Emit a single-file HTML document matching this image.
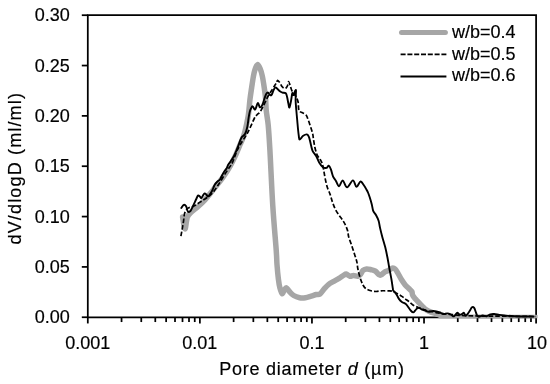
<!DOCTYPE html><html><head><meta charset="utf-8"><style>html,body{margin:0;padding:0;background:#fff;}svg{display:block;}</style></head><body>
<svg width="550" height="384" viewBox="0 0 550 384" font-family='"Liberation Sans", Arial, sans-serif' font-size="18">
<style>text{stroke:#000;stroke-width:0.18px;}</style>
<rect width="550" height="384" fill="#fff"/>
<g stroke="#000" stroke-width="1.75" fill="none">
<path d="M87.80,15.20 H536.10 V317.25 H87.80 Z"/>
<path d="M81.80,317.25 H87.80"/>
<path d="M81.80,266.91 H87.80"/>
<path d="M81.80,216.57 H87.80"/>
<path d="M81.80,166.22 H87.80"/>
<path d="M81.80,115.88 H87.80"/>
<path d="M81.80,65.54 H87.80"/>
<path d="M81.80,15.20 H87.80"/>
<path d="M87.80,317.25 V323.45"/>
<path d="M121.54,317.25 V322.05"/>
<path d="M141.27,317.25 V322.05"/>
<path d="M155.28,317.25 V322.05"/>
<path d="M166.14,317.25 V322.05"/>
<path d="M175.01,317.25 V322.05"/>
<path d="M182.51,317.25 V322.05"/>
<path d="M189.01,317.25 V322.05"/>
<path d="M194.75,317.25 V322.05"/>
<path d="M199.88,317.25 V323.45"/>
<path d="M233.61,317.25 V322.05"/>
<path d="M253.35,317.25 V322.05"/>
<path d="M267.35,317.25 V322.05"/>
<path d="M278.21,317.25 V322.05"/>
<path d="M287.09,317.25 V322.05"/>
<path d="M294.59,317.25 V322.05"/>
<path d="M301.09,317.25 V322.05"/>
<path d="M306.82,317.25 V322.05"/>
<path d="M311.95,317.25 V323.45"/>
<path d="M345.69,317.25 V322.05"/>
<path d="M365.42,317.25 V322.05"/>
<path d="M379.43,317.25 V322.05"/>
<path d="M390.29,317.25 V322.05"/>
<path d="M399.16,317.25 V322.05"/>
<path d="M406.66,317.25 V322.05"/>
<path d="M413.16,317.25 V322.05"/>
<path d="M418.90,317.25 V322.05"/>
<path d="M424.03,317.25 V323.45"/>
<path d="M457.76,317.25 V322.05"/>
<path d="M477.50,317.25 V322.05"/>
<path d="M491.50,317.25 V322.05"/>
<path d="M502.36,317.25 V322.05"/>
<path d="M511.24,317.25 V322.05"/>
<path d="M518.74,317.25 V322.05"/>
<path d="M525.24,317.25 V322.05"/>
<path d="M530.97,317.25 V322.05"/>
<path d="M536.10,317.25 V323.45"/>
</g>
<clipPath id="pa"><rect x="86.80" y="15.20" width="450.80" height="303.00"/></clipPath><g clip-path="url(#pa)">
<path d="M182.60,217.00 C183.00,219.00 184.20,229.00 185.00,229.00 C185.80,229.00 186.25,219.92 187.40,217.00 C188.55,214.08 190.07,213.30 191.90,211.50 C193.73,209.70 196.22,208.15 198.40,206.20 C200.58,204.25 203.03,201.90 205.00,199.80 C206.97,197.70 208.37,195.87 210.20,193.60 C212.03,191.33 213.85,188.93 216.00,186.20 C218.15,183.47 220.70,180.63 223.10,177.20 C225.50,173.77 228.25,169.42 230.40,165.60 C232.55,161.78 234.40,157.77 236.00,154.30 C237.60,150.83 238.75,147.77 240.00,144.80 C241.25,141.83 242.55,139.25 243.50,136.50 C244.45,133.75 244.88,131.95 245.70,128.30 C246.52,124.65 247.70,119.32 248.40,114.60 C249.10,109.88 249.37,104.43 249.90,100.00 C250.43,95.57 251.03,91.85 251.60,88.00 C252.17,84.15 252.75,79.93 253.30,76.90 C253.85,73.87 254.20,71.85 254.90,69.80 C255.60,67.75 256.63,64.82 257.50,64.60 C258.37,64.38 259.30,66.60 260.10,68.50 C260.90,70.40 261.60,72.75 262.30,76.00 C263.00,79.25 263.75,84.22 264.30,88.00 C264.85,91.78 265.27,94.87 265.60,98.70 C265.93,102.53 265.87,106.62 266.30,111.00 C266.73,115.38 267.60,118.50 268.20,125.00 C268.80,131.50 269.13,136.50 269.90,150.00 C270.67,163.50 271.75,189.33 272.80,206.00 C273.85,222.67 275.50,240.23 276.20,250.00 C276.90,259.77 276.63,259.73 277.00,264.60 C277.37,269.47 277.92,275.32 278.40,279.20 C278.88,283.08 279.28,285.48 279.90,287.90 C280.52,290.32 281.37,293.35 282.10,293.70 C282.83,294.05 283.58,290.97 284.30,290.00 C285.02,289.03 285.55,287.65 286.40,287.90 C287.25,288.15 288.18,290.23 289.40,291.50 C290.62,292.77 292.00,294.47 293.70,295.50 C295.40,296.53 297.65,297.33 299.60,297.70 C301.55,298.07 303.47,297.97 305.40,297.70 C307.33,297.43 309.38,296.63 311.20,296.10 C313.02,295.57 314.83,294.87 316.30,294.50 C317.77,294.13 318.65,294.88 320.00,293.90 C321.35,292.92 322.95,290.20 324.40,288.60 C325.85,287.00 327.13,285.52 328.70,284.30 C330.27,283.08 332.08,282.28 333.80,281.30 C335.52,280.32 337.42,279.37 339.00,278.40 C340.58,277.43 342.10,276.23 343.30,275.50 C344.50,274.77 345.10,273.88 346.20,274.00 C347.30,274.12 348.68,275.95 349.90,276.20 C351.12,276.45 352.17,275.50 353.50,275.50 C354.83,275.50 356.68,276.45 357.90,276.20 C359.12,275.95 359.95,274.97 360.80,274.00 C361.65,273.03 362.03,271.23 363.00,270.40 C363.97,269.57 365.27,269.12 366.60,269.00 C367.93,268.88 369.53,269.35 371.00,269.70 C372.47,270.05 374.07,270.25 375.40,271.10 C376.73,271.95 378.03,274.18 379.00,274.80 C379.97,275.42 380.22,275.28 381.20,274.80 C382.18,274.32 383.68,272.63 384.90,271.90 C386.12,271.17 387.28,271.02 388.50,270.40 C389.72,269.78 391.10,268.43 392.20,268.20 C393.30,267.97 394.13,268.15 395.10,269.00 C396.07,269.85 396.92,271.50 398.00,273.30 C399.08,275.10 400.40,277.87 401.60,279.80 C402.80,281.73 404.00,283.45 405.20,284.90 C406.40,286.35 407.70,287.42 408.80,288.50 C409.90,289.58 411.17,290.30 411.80,291.40 C412.43,292.50 412.03,293.88 412.60,295.10 C413.17,296.32 414.30,297.62 415.20,298.70 C416.10,299.78 416.95,300.47 418.00,301.60 C419.05,302.73 420.33,304.27 421.50,305.50 C422.67,306.73 423.73,308.05 425.00,309.00 C426.27,309.95 427.67,310.53 429.10,311.20 C430.53,311.87 432.08,312.45 433.60,313.00 C435.12,313.55 436.97,314.03 438.20,314.50 C439.43,314.97 440.20,315.40 441.00,315.80 C441.80,316.20 441.50,316.65 443.00,316.90 C444.50,317.15 434.50,317.22 450.00,317.30 C465.50,317.38 521.67,317.38 536.00,317.40" fill="none" stroke="#a6a6a6" stroke-width="5.5" stroke-linejoin="round" stroke-linecap="round"/>
<path d="M180.90,236.20 C181.12,235.02 181.77,231.58 182.20,229.10 C182.63,226.62 183.07,224.02 183.50,221.30 C183.93,218.58 184.05,214.98 184.80,212.80 C185.55,210.62 186.82,209.18 188.00,208.20 C189.18,207.22 190.60,207.43 191.90,206.90 C193.20,206.37 194.50,205.75 195.80,205.00 C197.10,204.25 198.40,203.27 199.70,202.40 C201.00,201.53 202.28,200.67 203.60,199.80 C204.92,198.93 206.07,198.40 207.60,197.20 C209.13,196.00 210.95,194.77 212.80,192.60 C214.65,190.43 216.50,187.57 218.70,184.20 C220.90,180.83 223.80,175.83 226.00,172.40 C228.20,168.97 230.43,166.27 231.90,163.60 C233.37,160.93 233.95,158.58 234.80,156.40 C235.65,154.22 236.15,152.37 237.00,150.50 C237.85,148.63 238.82,147.05 239.90,145.20 C240.98,143.35 242.28,141.35 243.50,139.40 C244.72,137.45 245.98,135.70 247.20,133.50 C248.42,131.30 249.58,128.78 250.80,126.20 C252.02,123.62 253.45,119.92 254.50,118.00 C255.55,116.08 256.12,115.78 257.10,114.70 C258.08,113.62 259.20,113.28 260.40,111.50 C261.60,109.72 263.00,106.58 264.30,104.00 C265.60,101.42 266.92,98.33 268.20,96.00 C269.48,93.67 270.87,91.83 272.00,90.00 C273.13,88.17 274.23,86.20 275.00,85.00 C275.77,83.80 276.17,83.57 276.60,82.80 C277.03,82.03 277.03,80.37 277.60,80.40 C278.17,80.43 279.27,81.98 280.00,83.00 C280.73,84.02 281.33,85.62 282.00,86.50 C282.67,87.38 283.33,88.05 284.00,88.30 C284.67,88.55 285.40,88.47 286.00,88.00 C286.60,87.53 287.17,86.57 287.60,85.50 C288.03,84.43 288.20,81.68 288.60,81.60 C289.00,81.52 289.50,83.60 290.00,85.00 C290.50,86.40 290.98,88.53 291.60,90.00 C292.22,91.47 292.97,92.72 293.70,93.80 C294.43,94.88 295.27,95.13 296.00,96.50 C296.73,97.87 297.67,100.00 298.10,102.00 C298.53,104.00 298.35,106.95 298.60,108.50 C298.85,110.05 298.95,110.58 299.60,111.30 C300.25,112.02 301.42,112.18 302.50,112.80 C303.58,113.42 305.13,113.78 306.10,115.00 C307.07,116.22 307.57,118.17 308.30,120.10 C309.03,122.03 309.77,124.30 310.50,126.60 C311.23,128.90 312.22,131.88 312.70,133.90 C313.18,135.92 313.03,136.43 313.40,138.70 C313.77,140.97 314.28,144.82 314.90,147.50 C315.52,150.18 316.25,152.85 317.10,154.80 C317.95,156.75 319.15,157.75 320.00,159.20 C320.85,160.65 321.60,161.80 322.20,163.50 C322.80,165.20 323.12,166.97 323.60,169.40 C324.08,171.83 324.48,175.12 325.10,178.10 C325.72,181.08 326.45,184.55 327.30,187.30 C328.15,190.05 329.35,192.17 330.20,194.60 C331.05,197.03 331.55,199.47 332.40,201.90 C333.25,204.33 334.22,207.02 335.30,209.20 C336.38,211.38 337.68,213.18 338.90,215.00 C340.12,216.82 341.50,218.40 342.60,220.10 C343.70,221.80 344.65,223.38 345.50,225.20 C346.35,227.02 347.17,229.05 347.70,231.00 C348.23,232.95 348.03,234.47 348.70,236.90 C349.37,239.33 350.72,242.68 351.70,245.60 C352.68,248.52 353.75,251.73 354.60,254.40 C355.45,257.07 356.25,259.17 356.80,261.60 C357.35,264.03 357.35,266.32 357.90,269.00 C358.45,271.68 359.25,275.03 360.10,277.70 C360.95,280.37 362.03,283.18 363.00,285.00 C363.97,286.82 364.57,287.63 365.90,288.60 C367.23,289.57 369.30,290.32 371.00,290.80 C372.70,291.28 374.40,291.50 376.10,291.50 C377.80,291.50 379.63,290.92 381.20,290.80 C382.77,290.68 384.18,290.80 385.50,290.80 C386.82,290.80 388.05,290.75 389.10,290.80 C390.15,290.85 390.88,290.85 391.80,291.10 C392.72,291.35 393.53,291.80 394.60,292.30 C395.67,292.80 396.98,293.42 398.20,294.10 C399.42,294.78 400.68,295.57 401.90,296.40 C403.12,297.23 404.35,298.25 405.50,299.10 C406.65,299.95 407.62,300.57 408.80,301.50 C409.98,302.43 411.12,303.73 412.60,304.70 C414.08,305.67 416.00,306.55 417.70,307.30 C419.40,308.05 421.10,308.57 422.80,309.20 C424.50,309.83 426.20,310.68 427.90,311.10 C429.60,311.52 431.30,311.38 433.00,311.70 C434.70,312.02 436.40,312.68 438.10,313.00 C439.80,313.32 441.30,313.38 443.20,313.60 C445.10,313.82 446.70,314.02 449.50,314.30 C452.30,314.58 454.92,315.02 460.00,315.30 C465.08,315.58 467.33,315.80 480.00,316.00 C492.67,316.20 526.67,316.42 536.00,316.50" fill="none" stroke="#000" stroke-width="1.7" stroke-dasharray="4.6 2.1" stroke-linejoin="round"/>
<path d="M181.30,208.00 C181.72,207.47 183.00,205.08 183.80,204.80 C184.60,204.52 185.40,205.15 186.10,206.30 C186.80,207.45 187.25,210.95 188.00,211.70 C188.75,212.45 189.73,211.82 190.60,210.80 C191.47,209.78 192.25,207.57 193.20,205.60 C194.15,203.63 195.50,200.67 196.30,199.00 C197.10,197.33 197.43,196.05 198.00,195.60 C198.57,195.15 199.15,195.87 199.70,196.30 C200.25,196.73 200.75,198.33 201.30,198.20 C201.85,198.07 202.43,196.30 203.00,195.50 C203.57,194.70 204.15,193.57 204.70,193.40 C205.25,193.23 205.75,193.98 206.30,194.50 C206.85,195.02 207.43,196.47 208.00,196.50 C208.57,196.53 209.15,195.42 209.70,194.70 C210.25,193.98 210.75,193.18 211.30,192.20 C211.85,191.22 212.43,190.05 213.00,188.80 C213.57,187.55 214.00,185.87 214.70,184.70 C215.40,183.53 216.32,182.67 217.20,181.80 C218.08,180.93 219.27,180.43 220.00,179.50 C220.73,178.57 220.83,177.60 221.60,176.20 C222.37,174.80 223.75,172.43 224.60,171.10 C225.45,169.77 226.10,169.28 226.70,168.20 C227.30,167.12 227.58,165.68 228.20,164.60 C228.82,163.52 229.55,162.92 230.40,161.70 C231.25,160.48 232.33,159.08 233.30,157.30 C234.27,155.52 235.23,153.27 236.20,151.00 C237.17,148.73 238.25,145.88 239.10,143.70 C239.95,141.52 240.32,139.52 241.30,137.90 C242.28,136.28 244.00,135.82 245.00,134.00 C246.00,132.18 246.70,129.67 247.30,127.00 C247.90,124.33 248.20,120.50 248.60,118.00 C249.00,115.50 249.30,113.58 249.70,112.00 C250.10,110.42 250.52,109.45 251.00,108.50 C251.48,107.55 251.90,106.13 252.60,106.30 C253.30,106.47 254.33,110.05 255.20,109.50 C256.07,108.95 257.02,103.37 257.80,103.00 C258.58,102.63 259.15,106.97 259.90,107.30 C260.65,107.63 261.57,106.37 262.30,105.00 C263.03,103.63 263.65,100.95 264.30,99.10 C264.95,97.25 265.55,94.98 266.20,93.90 C266.85,92.82 267.65,92.50 268.20,92.60 C268.75,92.70 268.97,94.07 269.50,94.50 C270.03,94.93 270.75,95.85 271.40,95.20 C272.05,94.55 272.75,91.90 273.40,90.60 C274.05,89.30 274.65,87.72 275.30,87.40 C275.95,87.08 276.53,88.05 277.30,88.70 C278.07,89.35 279.03,90.65 279.90,91.30 C280.77,91.95 281.52,92.28 282.50,92.60 C283.48,92.92 285.03,92.45 285.80,93.20 C286.57,93.95 286.67,95.37 287.10,97.10 C287.53,98.83 288.02,101.85 288.40,103.60 C288.78,105.35 288.97,108.03 289.40,107.60 C289.83,107.17 290.52,103.40 291.00,101.00 C291.48,98.60 291.88,94.20 292.30,93.20 C292.72,92.20 293.05,95.32 293.50,95.00 C293.95,94.68 294.58,92.03 295.00,91.30 C295.42,90.57 295.90,89.15 296.00,90.60 C296.10,92.05 295.55,96.77 295.60,100.00 C295.65,103.23 296.03,106.67 296.30,110.00 C296.57,113.33 296.90,116.67 297.20,120.00 C297.50,123.33 297.83,127.37 298.10,130.00 C298.37,132.63 298.55,134.22 298.80,135.80 C299.05,137.38 298.87,139.50 299.60,139.50 C300.33,139.50 301.98,136.65 303.20,135.80 C304.42,134.95 305.92,134.15 306.90,134.40 C307.88,134.65 308.38,135.37 309.10,137.30 C309.82,139.23 310.60,143.70 311.20,146.00 C311.80,148.30 311.85,149.40 312.70,151.10 C313.55,152.80 315.20,154.25 316.30,156.20 C317.40,158.15 318.20,160.97 319.30,162.80 C320.40,164.63 321.70,166.35 322.90,167.20 C324.10,168.05 325.53,168.15 326.50,167.90 C327.47,167.65 327.97,165.45 328.70,165.70 C329.43,165.95 330.17,167.58 330.90,169.40 C331.63,171.22 332.28,174.72 333.10,176.60 C333.92,178.48 334.80,179.10 335.80,180.70 C336.80,182.30 337.95,186.25 339.10,186.20 C340.25,186.15 341.37,180.22 342.70,180.40 C344.03,180.58 345.40,187.30 347.10,187.30 C348.80,187.30 351.33,180.47 352.90,180.40 C354.47,180.33 355.23,186.72 356.50,186.90 C357.77,187.08 359.22,181.68 360.50,181.50 C361.78,181.32 363.22,184.47 364.20,185.80 C365.18,187.13 365.73,188.30 366.40,189.50 C367.07,190.70 367.63,191.67 368.20,193.00 C368.77,194.33 369.20,195.60 369.80,197.50 C370.40,199.40 371.23,202.17 371.80,204.40 C372.37,206.63 372.48,209.08 373.20,210.90 C373.92,212.72 375.20,213.65 376.10,215.30 C377.00,216.95 377.93,218.67 378.60,220.80 C379.27,222.93 379.48,225.42 380.10,228.10 C380.72,230.78 381.45,233.73 382.30,236.90 C383.15,240.07 384.35,243.70 385.20,247.10 C386.05,250.50 386.73,253.90 387.40,257.30 C388.07,260.70 388.53,263.87 389.20,267.50 C389.87,271.13 390.80,275.65 391.40,279.10 C392.00,282.55 392.50,286.30 392.80,288.20 C393.10,290.10 392.83,289.82 393.20,290.50 C393.57,291.18 394.40,291.55 395.00,292.30 C395.60,293.05 396.12,293.87 396.80,295.00 C397.48,296.13 398.25,297.95 399.10,299.10 C399.95,300.25 400.83,301.13 401.90,301.90 C402.97,302.67 404.57,303.02 405.50,303.70 C406.43,304.38 406.63,304.87 407.50,306.00 C408.37,307.13 409.73,309.43 410.70,310.50 C411.67,311.57 412.55,312.40 413.30,312.40 C414.05,312.40 414.57,311.15 415.20,310.50 C415.83,309.85 416.47,308.93 417.10,308.50 C417.73,308.07 418.27,307.77 419.00,307.90 C419.73,308.03 420.58,308.92 421.50,309.30 C422.42,309.68 423.23,309.78 424.50,310.20 C425.77,310.62 427.68,311.67 429.10,311.80 C430.52,311.93 431.78,311.07 433.00,311.00 C434.22,310.93 435.23,311.15 436.40,311.40 C437.57,311.65 438.98,312.10 440.00,312.50 C441.02,312.90 441.75,313.55 442.50,313.80 C443.25,314.05 443.70,314.07 444.50,314.00 C445.30,313.93 446.23,313.32 447.30,313.40 C448.37,313.48 449.78,314.00 450.90,314.50 C452.02,315.00 452.98,316.68 454.00,316.40 C455.02,316.12 456.07,313.10 457.00,312.80 C457.93,312.50 458.80,314.38 459.60,314.60 C460.40,314.82 461.07,314.40 461.80,314.10 C462.53,313.80 463.38,312.55 464.00,312.80 C464.62,313.05 464.90,315.40 465.50,315.60 C466.10,315.80 466.88,314.80 467.60,314.00 C468.32,313.20 469.07,311.93 469.80,310.80 C470.53,309.67 471.27,307.68 472.00,307.20 C472.73,306.72 473.60,307.18 474.20,307.90 C474.80,308.62 475.12,310.23 475.60,311.50 C476.08,312.77 476.55,314.62 477.10,315.50 C477.65,316.38 477.97,316.80 478.90,316.80 C479.83,316.80 481.43,315.60 482.70,315.50 C483.97,315.40 485.22,316.40 486.50,316.20 C487.78,316.00 489.12,314.67 490.40,314.30 C491.68,313.93 492.72,313.90 494.20,314.00 C495.68,314.10 497.60,314.65 499.30,314.90 C501.00,315.15 501.87,315.28 504.40,315.50 C506.93,315.72 509.63,316.02 514.50,316.20 C519.37,316.38 530.42,316.53 533.60,316.60" fill="none" stroke="#000" stroke-width="1.9" stroke-linejoin="round" stroke-linecap="round"/>
</g>
<g text-anchor="end" fill="#000">
<text x="69.7" y="323.25">0.00</text>
<text x="69.7" y="272.91">0.05</text>
<text x="69.7" y="222.57">0.10</text>
<text x="69.7" y="172.22">0.15</text>
<text x="69.7" y="121.88">0.20</text>
<text x="69.7" y="71.54">0.25</text>
<text x="69.7" y="21.20">0.30</text>
</g>
<g text-anchor="middle" fill="#000">
<text x="87.80" y="348.9">0.001</text>
<text x="199.88" y="348.9">0.01</text>
<text x="311.95" y="348.9">0.1</text>
<text x="424.03" y="348.9">1</text>
<text x="536.90" y="348.9">10</text>
</g>
<text x="312" y="374.6" text-anchor="middle" letter-spacing="0.75">Pore diameter <tspan font-style="italic">d</tspan> (µm)</text>
<text transform="translate(21.4,168.2) rotate(-90)" text-anchor="middle" letter-spacing="1.16">dV/dlogD (ml/ml)</text>
<path d="M401.5,32.4 H445.4" stroke="#a6a6a6" stroke-width="5" stroke-linecap="round"/>
<path d="M400.6,54.35 H446.4" stroke="#000" stroke-width="1.9" stroke-dasharray="5 1.8"/>
<path d="M400.5,76.5 H446.4" stroke="#000" stroke-width="1.9"/>
<g fill="#000">
<text x="451.9" y="38.2">w/b=0.4</text>
<text x="451.9" y="59.7">w/b=0.5</text>
<text x="451.9" y="81">w/b=0.6</text>
</g>
</svg></body></html>
